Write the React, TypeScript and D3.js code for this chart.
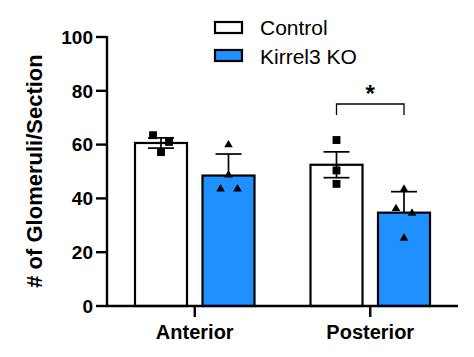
import React from "react";
import * as d3 from "d3";

const categories = ["Anterior", "Posterior"];
const seriesNames = ["Control", "Kirrel3 KO"];
const controlMeans = [60.6, 52.5];
const koMeans = [48.5, 34.7];
const controlErr = [1.9, 4.8];
const koErr = [8.0, 7.8];
const controlPoints = [[63.5, 61.0, 57.2], [61.7, 50.4, 45.4]];
const koPoints = [[59.9, 48.7, 43.5, 43.5], [43.4, 36.2, 34.5, 25.2]];
const controlJitter = [[-8, 8, 0], [0, 0, 0]];
const koJitter = [[0, 0, -8, 9], [0, -8, 8, 0]];
const yTicks = [0, 20, 40, 60, 80, 100];
const seriesColors = ["#ffffff", "#1e90ff"];

const W = 474, H = 357;
const X0 = 107, X1 = 458, Y0 = 306, Y1 = 37;
const FONT = "'Liberation Sans', Arial, Helvetica, sans-serif";

export default function App() {
  const y = d3.scaleLinear().domain([0, 100]).range([Y0, Y1]);
  const xg = d3.scaleBand().domain(categories).range([X0, X1]).padding(0);
  const xs = d3.scaleBand().domain(seriesNames).range([28, xg.bandwidth() - 28]).paddingInner(0.2296).paddingOuter(0);
  const bw = xs.bandwidth();
  const sq = d3.symbol().type(d3.symbolSquare).size(62)() as string;
  const tri = d3.symbol().type(d3.symbolTriangle).size(32)() as string;

  const groups = categories.map((c, i) => ({
    c,
    items: [
      { s: seriesNames[0], mean: controlMeans[i], err: controlErr[i], pts: controlPoints[i], jit: controlJitter[i], color: seriesColors[0], shape: sq, both: true },
      { s: seriesNames[1], mean: koMeans[i], err: koErr[i], pts: koPoints[i], jit: koJitter[i], color: seriesColors[1], shape: tri, both: false },
    ],
  }));

  const capW = 13;
  const pC = xg("Posterior")! + xs("Control")! + bw / 2;
  const pK = xg("Posterior")! + xs("Kirrel3 KO")! + bw / 2;

  return (
    <svg width={W} height={H} style={{ position: "absolute", left: 0, top: 0, background: "#fff" }} fontFamily={FONT}>
      {groups.map((g) =>
        g.items.map((it) => {
          const x = xg(g.c)! + xs(it.s)!;
          return (
            <rect key={g.c + it.s} x={x} y={y(it.mean)} width={bw} height={Y0 - y(it.mean)} fill={it.color} stroke="#000" strokeWidth={2.2} />
          );
        })
      )}
      {groups.map((g) =>
        g.items.map((it) => {
          const cx = xg(g.c)! + xs(it.s)! + bw / 2;
          const top = y(it.mean + it.err);
          const bot = it.both ? y(it.mean - it.err) : y(it.mean);
          return (
            <g key={"e" + g.c + it.s} stroke="#000" strokeWidth={1.7}>
              <line x1={cx} x2={cx} y1={top} y2={bot} />
              <line x1={cx - capW} x2={cx + capW} y1={top} y2={top} />
              {it.both && <line x1={cx - capW} x2={cx + capW} y1={bot} y2={bot} />}
            </g>
          );
        })
      )}
      {groups.map((g) =>
        g.items.map((it) => {
          const cx = xg(g.c)! + xs(it.s)! + bw / 2;
          return it.pts.map((v, k) => (
            <path key={"p" + g.c + it.s + k} d={it.shape} transform={`translate(${cx + it.jit[k]},${y(v)})`} fill="#000" />
          ));
        })
      )}
      <line x1={X0} x2={X0} y1={Y1 - 1} y2={Y0 + 1} stroke="#000" strokeWidth={2.4} />
      {yTicks.map((t) => (
        <g key={t}>
          <line x1={X0 - 11} x2={X0} y1={y(t)} y2={y(t)} stroke="#000" strokeWidth={2.4} />
          <text x={X0 - 14} y={y(t)} dy="0.36em" textAnchor="end" fontSize={19} fontWeight="bold">{t}</text>
        </g>
      ))}
      <line x1={X0 - 1} x2={X1} y1={Y0} y2={Y0} stroke="#000" strokeWidth={2.4} />
      {categories.map((c) => {
        const cx = xg(c)! + xg.bandwidth() / 2;
        return (
          <g key={c}>
            <line x1={cx} x2={cx} y1={Y0} y2={Y0 + 11} stroke="#000" strokeWidth={2.4} />
            <text x={cx} y={339} textAnchor="middle" fontSize={20} fontWeight="bold">{c}</text>
          </g>
        );
      })}
      <text transform="translate(42,171) rotate(-90)" textAnchor="middle" fontSize={22} fontWeight="bold"># of Glomeruli/Section</text>
      <path d={`M${pC},115V104H${pK}V115`} fill="none" stroke="#000" strokeWidth={1.3} />
      <text x={(pC + pK) / 2} y={102} textAnchor="middle" fontSize={24} fontWeight="bold">*</text>
      {seriesNames.map((s, i) => (
        <g key={s}>
          <rect x={215} y={22 + i * 28} width={27} height={11} fill={seriesColors[i]} stroke="#000" strokeWidth={2.2} />
          <text x={260} y={35 + i * 28.5} fontSize={21}>{s}</text>
        </g>
      ))}
    </svg>
  );
}
